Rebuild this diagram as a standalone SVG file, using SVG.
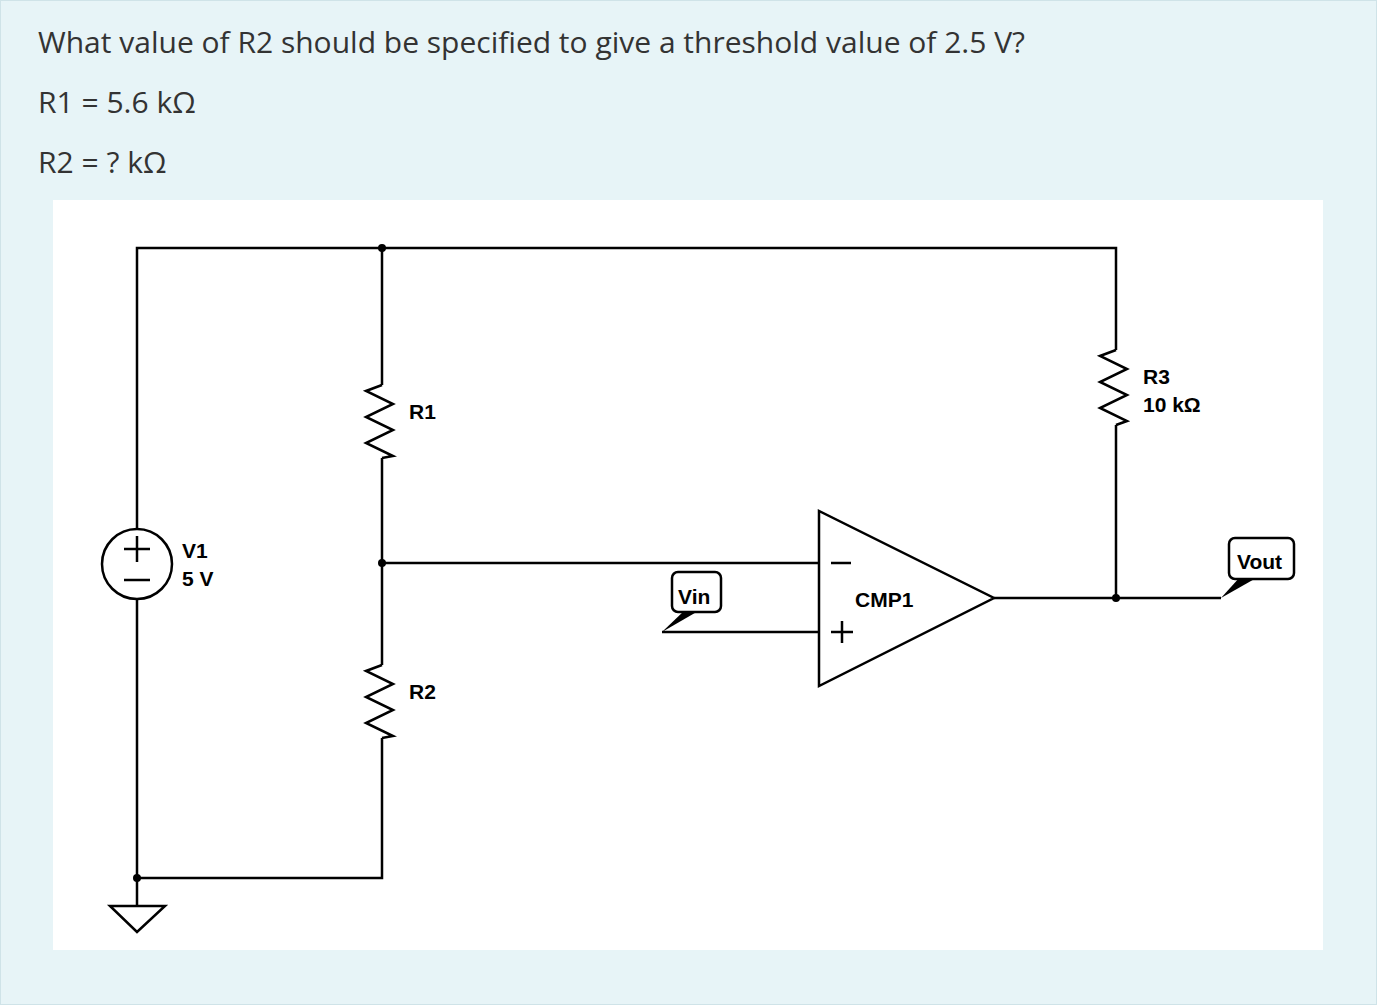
<svg xmlns="http://www.w3.org/2000/svg" width="1377" height="1005" viewBox="0 0 1377 1005">
<style>
.q{font-family:"Open Sans","Noto Sans",sans-serif;font-size:30px;fill:#333}
.w{fill:none;stroke:#000;stroke-width:2.5;stroke-linejoin:miter}
.l{font-family:"Liberation Sans",Arial,sans-serif;font-size:21px;font-weight:bold;fill:#000}
</style>
<rect x="0" y="0" width="1377" height="1005" fill="#e7f4f7"/>
<rect x="0.5" y="0.5" width="1376" height="1004" fill="none" stroke="#cfe3e8"/>
<text class="q" x="38" y="53">What value of R2 should be specified to give a threshold value of 2.5 V?</text>
<text class="q" x="38" y="113">R1 = 5.6 kΩ</text>
<text class="q" x="38" y="173">R2 = ? kΩ</text>
<rect x="53" y="200" width="1270" height="750" fill="#fff"/>
<g id="connectors">
<path class="w" d="M137 529V248H1116V350M1116 425V598H1221M994 598H1116M382 248V385M382 458V665M382 738V878H137V599M137 878V906M382 563H819M662 632H819"/>
<circle cx="382" cy="248" r="4"/><circle cx="382" cy="563" r="4"/><circle cx="1116" cy="598" r="4"/><circle cx="137" cy="878" r="4"/>
</g>
<g id="V1">
<circle class="w" cx="137" cy="564" r="35"/>
<path class="w" d="M124 549H150M137 536V562M124 580H150"/>
<text class="l" x="182" y="558">V1</text><text class="l" x="182" y="586">5 V</text>
</g>
<g id="GND"><path class="w" d="M110 906H165L137 932Z"/></g>
<g id="R1"><path class="w" d="M382 385L366 391L393 404L366 417L393 430L366 443L393 456L382 458"/><text class="l" x="409" y="419">R1</text></g>
<g id="R2"><path class="w" d="M382 665L366 671L393 684L366 697L393 710L366 723L393 736L382 738"/><text class="l" x="409" y="699">R2</text></g>
<g id="R3"><path class="w" d="M1116 350L1100 356L1127 369L1100 382L1127 395L1100 408L1127 421L1116 425"/><text class="l" x="1143" y="384">R3</text><text class="l" x="1143" y="412">10 kΩ</text></g>
<g id="CMP1">
<path class="w" d="M819 511V686L994 598Z"/>
<path class="w" d="M831 563H851M831 632H853M842 621V643"/>
<text class="l" x="855" y="607">CMP1</text>
</g>
<g id="Vin">
<path d="M662 632L685 610H700Z" fill="#000"/>
<rect x="672" y="572" width="49" height="40" rx="6" fill="#fff" stroke="#000" stroke-width="2.5"/>
<text class="l" x="678" y="604">Vin</text>
</g>
<g id="Vout">
<path d="M1221 598L1240 577H1258Z" fill="#000"/>
<rect x="1229" y="538" width="65" height="41" rx="6" fill="#fff" stroke="#000" stroke-width="2.5"/>
<text class="l" x="1237" y="569">Vout</text>
</g>
</svg>
